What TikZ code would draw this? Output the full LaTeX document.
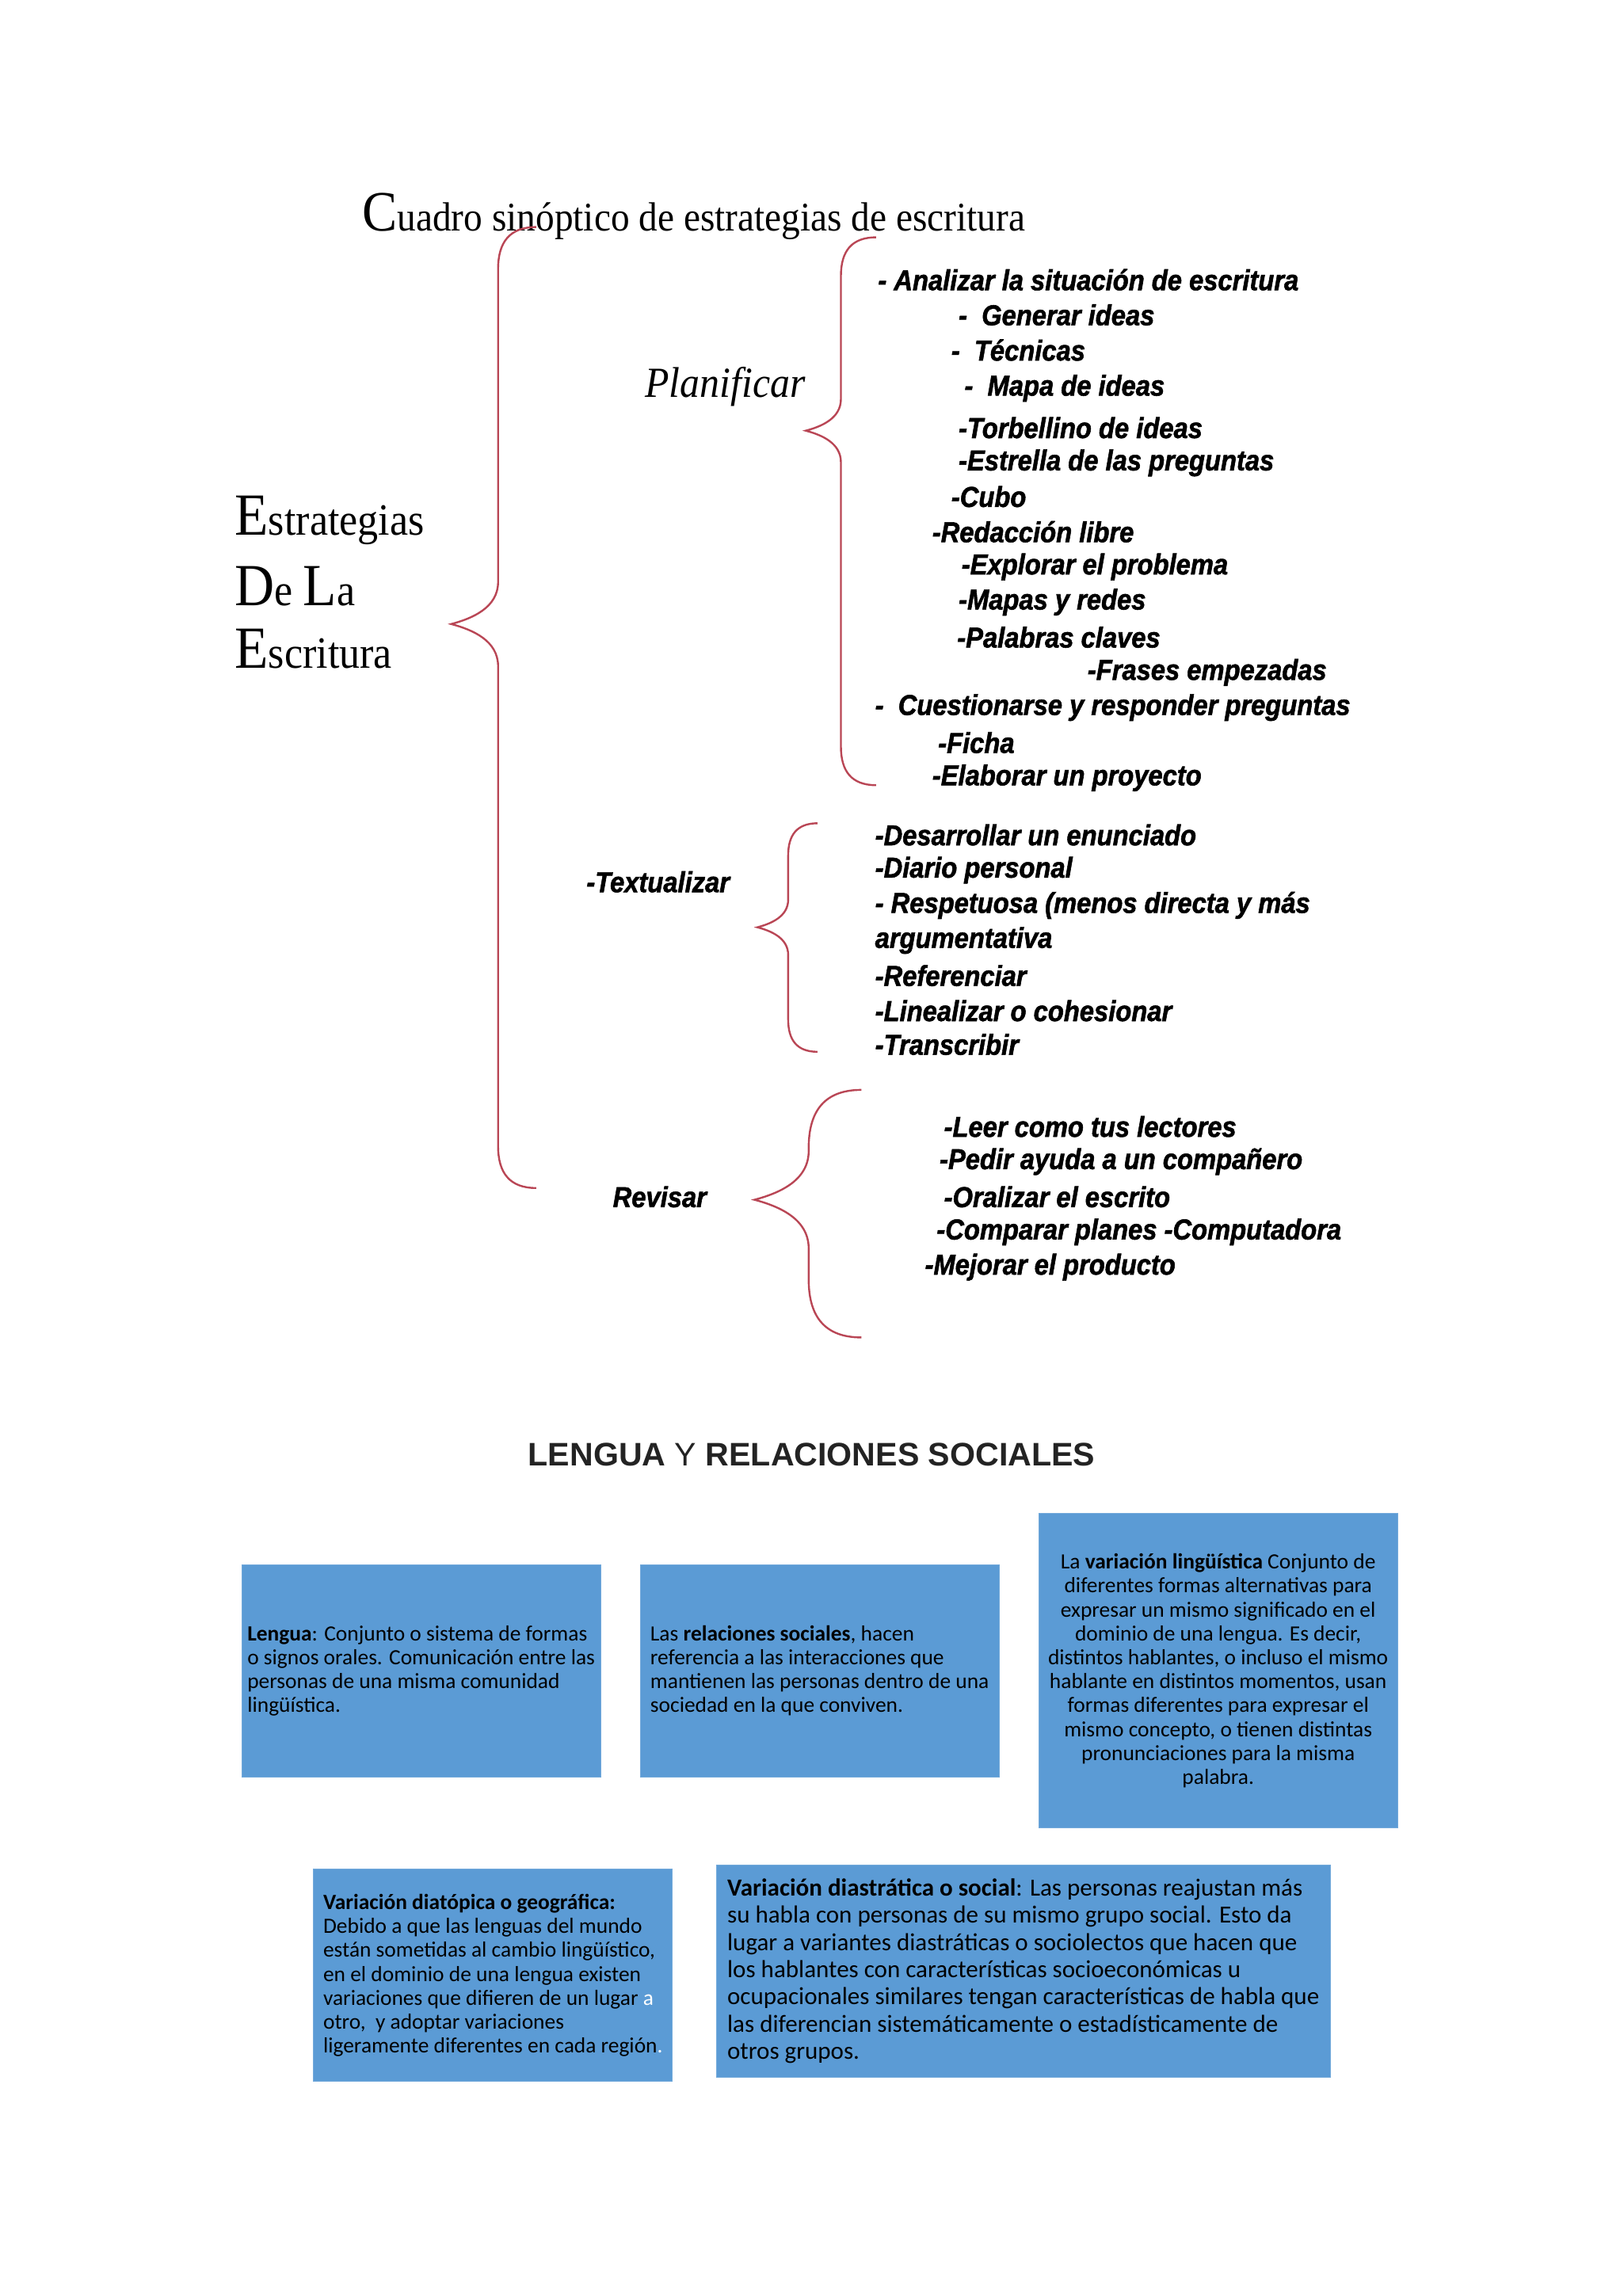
\documentclass[tikz,border=0pt]{standalone}
\usepackage{fontspec}
\usepackage{xcolor}
\usetikzlibrary{positioning}
\newfontfamily\papyfont[FakeStretch=0.92]{Liberation Serif}
\newfontfamily\listfont[FakeStretch=0.9, BoldItalicFeatures={FakeBold=1.5}]{Liberation Sans}
\newfontfamily\boxfont{Carlito}
\newfontfamily\headfont{Liberation Sans}
\definecolor{bracered}{RGB}{185,70,85}
\definecolor{boxblue}{RGB}{91,155,213}
\definecolor{headgray}{RGB}{35,35,35}
\newcommand{\dpx}{0.5393pt}
% geschweifte Klammer: Enden x, Ruecken x, Spitze x, oben y, Spitze y, unten y
\newcommand{\curlybrace}[6]{%
  \pgfmathsetmacro{\bcurl}{#1-#2}%
  \pgfmathsetmacro{\btip}{#2-#3}%
  \draw[bracestroke]
    (#1,#4) .. controls (#2+0.3*\bcurl,#4) and (#2,#4+0.4*\bcurl) .. (#2,#4+1.1*\bcurl)
    -- (#2,#5-0.9*\btip) .. controls (#2,#5-0.35*\btip) and (#3+0.45*\btip,#5-0.12*\btip) .. (#3,#5)
    .. controls (#3+0.45*\btip,#5+0.12*\btip) and (#2,#5+0.35*\btip) .. (#2,#5+0.9*\btip)
    -- (#2,#6-1.1*\bcurl) .. controls (#2,#6-0.4*\bcurl) and (#2+0.3*\bcurl,#6) .. (#1,#6);}
\tikzset{
  bracestroke/.style={draw=bracered, line width=0.7pt},
  papy/.style={font=\papyfont\fontsize{15}{18}\selectfont, anchor=west, inner sep=0pt},
  leftcol/.style={papy, font=\papyfont\fontsize{16.5}{18}\selectfont},
  item/.style={font=\listfont\bfseries\itshape\fontsize{10.6}{12}\selectfont, anchor=west, inner sep=0pt},
  infobox/.style={fill=boxblue, draw=boxblue!85!white, line width=0.3pt, inner sep=2pt,
    font=\boxfont\fontsize{8}{8.8}\selectfont, align=left,
    minimum width=245*\dpx, minimum height=145*\dpx}
}

\begin{document}
\begin{tikzpicture}[x=0.5393pt, y=-0.5393pt]
\useasboundingbox (0,0) rectangle (1108,1566);

% Ueberschrift oben
\node[papy] (cuadro) at (247,148) {{\fontsize{21}{21}\selectfont C}uadro sinóptico de estrategias de escritura};

% linke Spalte
\node[leftcol] (estr) at (160,355) {{\fontsize{22}{22}\selectfont E}strategias};
\node[leftcol] (dela) at (160,400) {{\fontsize{22}{22}\selectfont D}e {\fontsize{22}{22}\selectfont L}a};
\node[leftcol] (escr) at (160,443) {{\fontsize{22}{22}\selectfont E}scritura};

% Zwischenstufe
\node[papy, font=\papyfont\itshape\fontsize{15.8}{18}\selectfont] (plan) at (440,264) {Planificar};
\node[item] (textu) at (400,602) {-Textualizar};
\node[item] (revis) at (418,817) {Revisar};

% Klammern
\curlybrace{366}{340}{308}{155}{426}{811}
\curlybrace{598}{574}{550}{162}{294}{536}
\curlybrace{558}{538}{517}{562}{633}{718}
\curlybrace{588}{552}{515}{744}{819}{913}

% Planificar
\foreach \xi/\yi/\txt [count=\i] in {
  599/191/{- Analizar la situación de escritura},
  654/215/{-\ \ Generar ideas},
  649/239/{-\ \ Técnicas},
  658/265/{-\ \ Mapa de ideas},
  654/292/{-Torbellino de ideas},
  654/316/{-Estrella de las preguntas},
  649/339/{-Cubo},
  636/363/{-Redacción libre},
  656/387/{-Explorar el problema},
  654/411/{-Mapas y redes},
  653/435/{-Palabras claves},
  742/459/{-Frases empezadas},
  597/483/{-\ \ Cuestionarse y responder preguntas},
  640/507/{-Ficha},
  636/531/{-Elaborar un proyecto}}
  \node[item] (plan-\i) at (\xi,\yi) {\txt};

% Textualizar
\foreach \yi/\txt [count=\i] in {
  570/{-Desarrollar un enunciado},
  594/{-Diario personal},
  618/{- Respetuosa (menos directa y más},
  642/{argumentativa},
  666/{-Referenciar},
  690/{-Linealizar o cohesionar},
  713/{-Transcribir}}
  \node[item] (textu-\i) at (597,\yi) {\txt};

% Revisar
\foreach \xi/\yi/\txt [count=\i] in {
  644/769/{-Leer como tus lectores},
  641/793/{-Pedir ayuda a un compañero},
  644/817/{-Oralizar el escrito},
  639/841/{-Comparar planes -Computadora},
  631/865/{-Mejorar el producto}}
  \node[item] (revis-\i) at (\xi,\yi) {\txt};

% zweiter Teil
\node[font=\headfont\fontsize{12}{14}\selectfont, text=headgray] (lengua) at (554,993)
  {\textbf{LENGUA} Y \textbf{RELACIONES SOCIALES}};

\node[infobox] (box-lengua) at (287.5,1140.5)
  {\textbf{Lengua}: Conjunto o sistema de formas\\
   o signos orales. Comunicación entre las\\
   personas de una misma comunidad\\
   lingüística.};

\node[infobox] (box-rel) at (559.5,1140.5)
  {Las \textbf{relaciones sociales}, hacen\\
   referencia a las interacciones que\\
   mantienen las personas dentro de una\\
   sociedad en la que conviven.};

\node[infobox, align=center, minimum height=215*\dpx] (box-var) at (831.5,1140.5)
  {La \textbf{variación lingüística} Conjunto de\\
   diferentes formas alternativas para\\
   expresar un mismo significado en el\\
   dominio de una lengua. Es decir,\\
   distintos hablantes, o incluso el mismo\\
   hablante en distintos momentos, usan\\
   formas diferentes para expresar el\\
   mismo concepto, o tienen distintas\\
   pronunciaciones para la misma\\
   palabra.};

\node[infobox] (box-diat) at (336.5,1348.5)
  {\textbf{Variación diatópica o geográfica:}\\
   Debido a que las lenguas del mundo\\
   están sometidas al cambio lingüístico,\\
   en el dominio de una lengua existen\\
   variaciones que difieren de un lugar \textcolor{white}{a}\\
   otro,\ \ y adoptar variaciones\\
   ligeramente diferentes en cada región\textcolor{white}{.}};

\node[infobox, font=\boxfont\fontsize{9.05}{10}\selectfont, minimum width=419*\dpx] (box-diast) at (698.5,1345.5)
  {\textbf{Variación diastrática o social}: Las personas reajustan más\\
   su habla con personas de su mismo grupo social. Esto da\\
   lugar a variantes diastráticas o sociolectos que hacen que\\
   los hablantes con características socioeconómicas u\\
   ocupacionales similares tengan características de habla que\\
   las diferencian sistemáticamente o estadísticamente de\\
   otros grupos.};

\end{tikzpicture}
\end{document}
